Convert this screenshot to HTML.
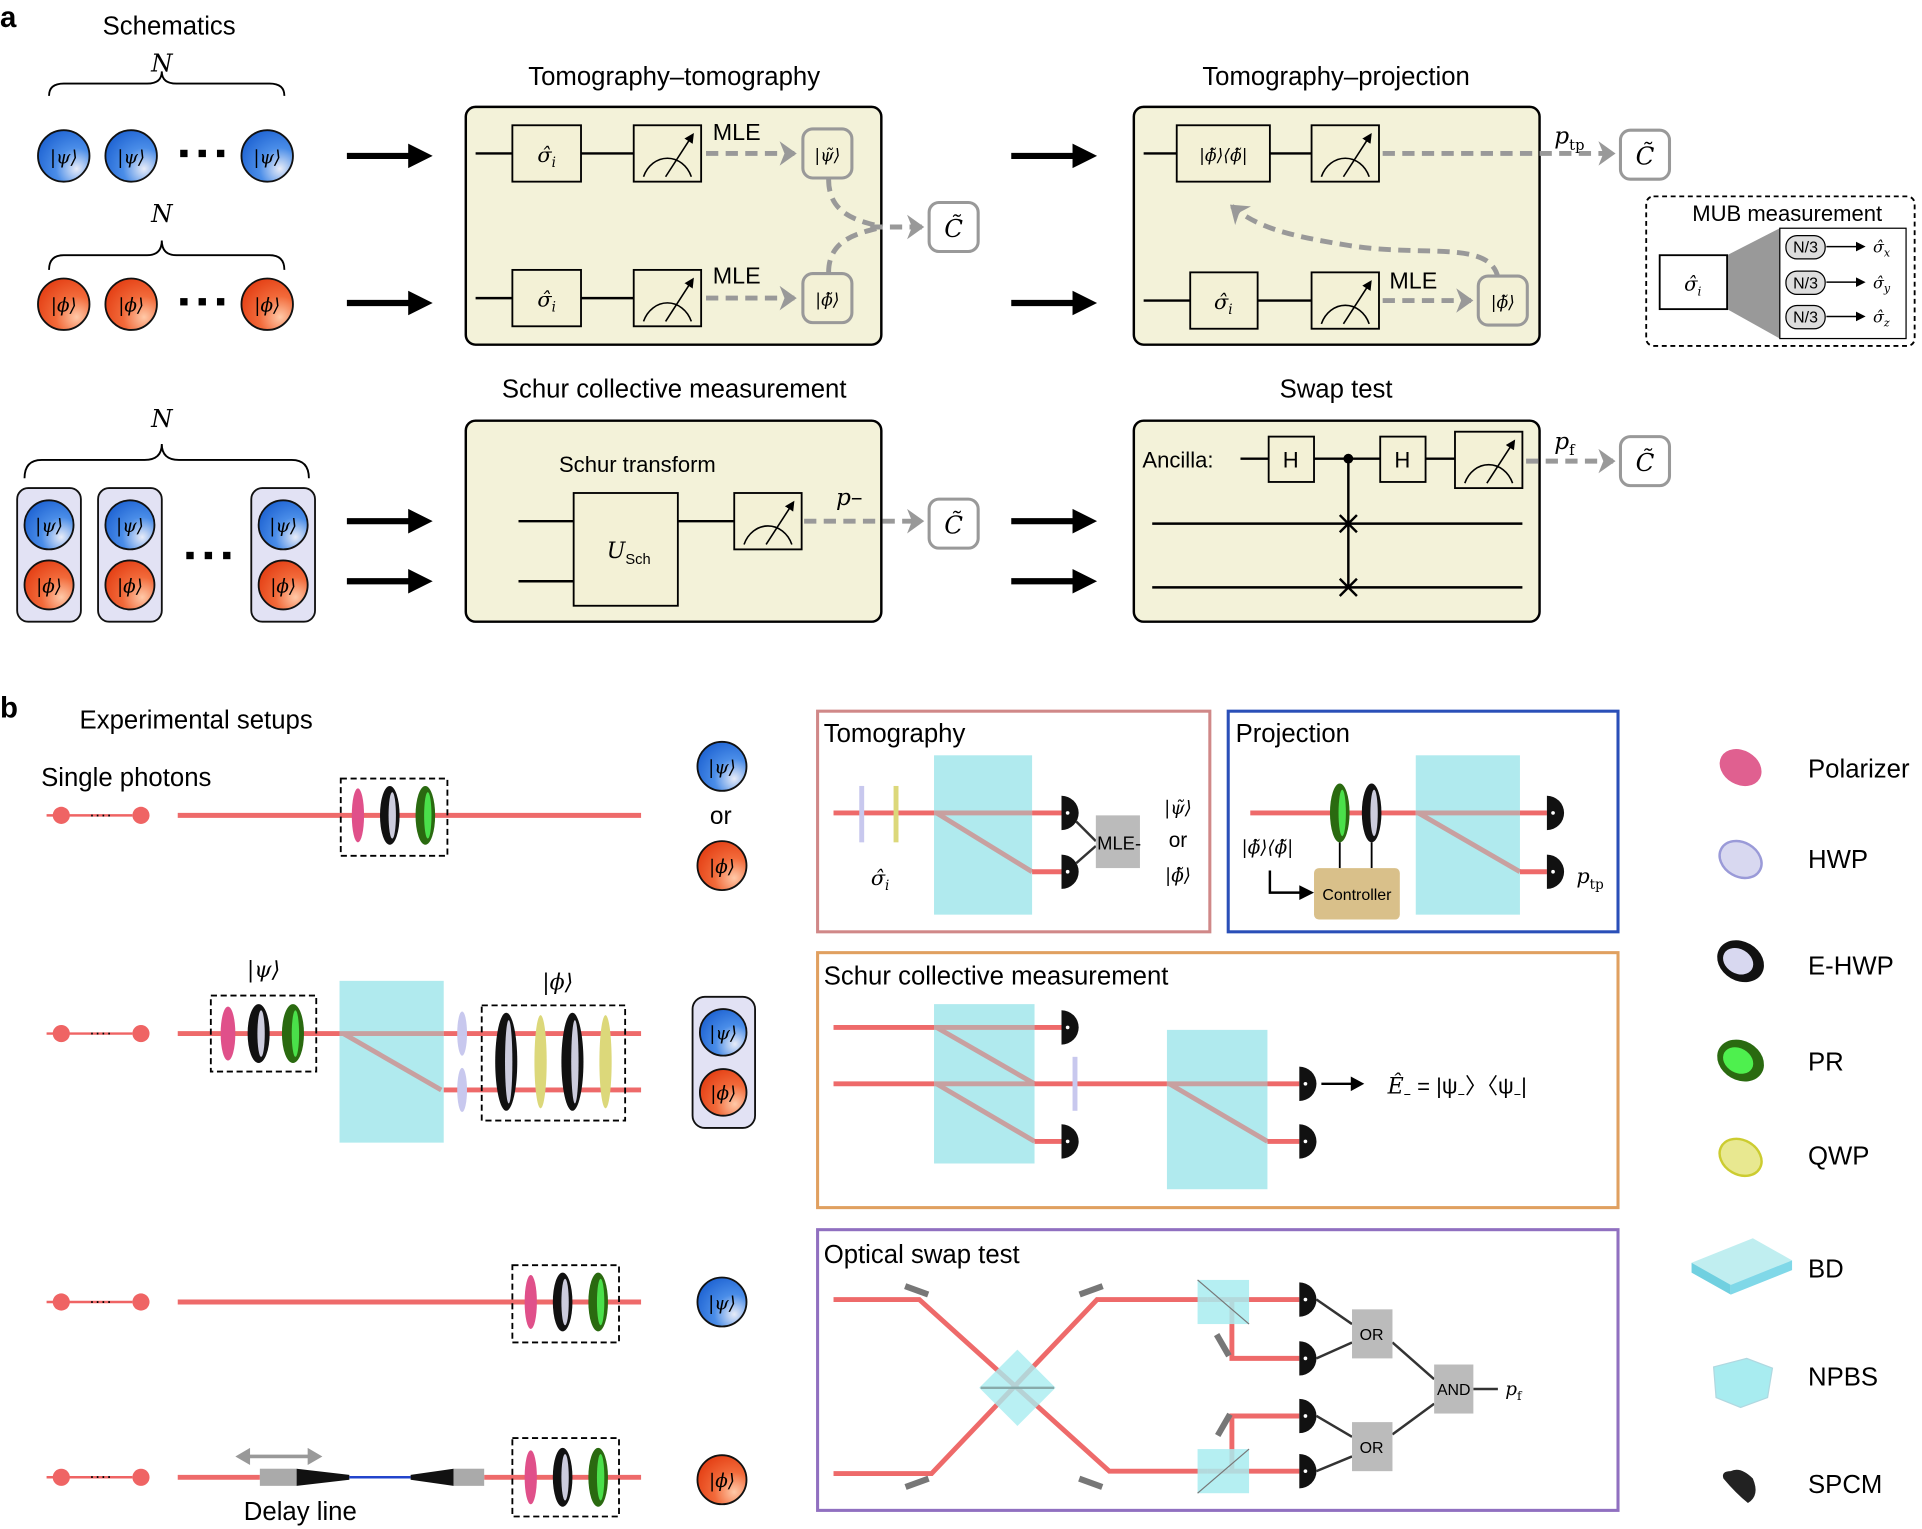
<!DOCTYPE html>
<html><head><meta charset="utf-8"><style>
html,body{margin:0;padding:0;background:#fff}
svg{display:block}
text{font-family:"Liberation Sans",sans-serif;fill:#000}
.m{font-family:"DejaVu Serif",serif;font-style:italic}
</style></head><body>
<svg width="1922" height="1529" viewBox="0 0 1568 1247" xmlns="http://www.w3.org/2000/svg">
<defs>
<radialGradient id="gb" cx="0.75" cy="0.75" r="0.9"><stop offset="0" stop-color="#e8ecf8"/><stop offset="0.45" stop-color="#4a8de8"/><stop offset="1" stop-color="#1a5fd0"/></radialGradient>
<radialGradient id="go" cx="0.75" cy="0.75" r="0.9"><stop offset="0" stop-color="#ffc9a8"/><stop offset="0.45" stop-color="#f26a3a"/><stop offset="1" stop-color="#e23a10"/></radialGradient>
<marker id="ah" markerWidth="8" markerHeight="8" refX="6" refY="4" orient="auto" markerUnits="userSpaceOnUse"><path d="M0,0 L8,4 L0,8 z" fill="#000"/></marker>
<marker id="ga" markerWidth="16" markerHeight="20" refX="12" refY="10" orient="auto" markerUnits="userSpaceOnUse"><path d="M0,0 L14,10 L0,20 L4,10 z" fill="#999"/></marker>
<g id="meter"><rect x="0" y="0" width="55" height="46" fill="#f3f1d6" stroke="#000" stroke-width="1.5"/><path d="M8,42 A21,24 0 0 1 47,42" fill="none" stroke="#000" stroke-width="1.3"/><line x1="26" y1="42" x2="48" y2="8" stroke="#000" stroke-width="1.3" marker-end="url(#ah)"/></g>
<g id="bigArrow"><line x1="0" y1="0" x2="52" y2="0" stroke="#000" stroke-width="5"/><path d="M50,-10 L70,0 L50,10 z" fill="#000"/></g>
<g id="det"><path d="M0,-14 A14,14 0 0 1 0,14 z" fill="#111"/><circle cx="5" cy="0" r="1.5" fill="#fff"/></g>
<g id="cbox"><rect x="0" y="0" width="40" height="40" rx="8" fill="#fff" stroke="#999" stroke-width="2.5"/><text x="20" y="28" text-anchor="middle" font-size="20" class="m">C̃</text></g>
<g id="src"><circle cx="50" cy="0" r="7" fill="#ef6464"/><circle cx="115" cy="0" r="7" fill="#ef6464"/><line x1="38" y1="0" x2="108" y2="0" stroke="#ef6464" stroke-width="2"/><text x="82" y="4" font-size="14" text-anchor="middle" fill="#000">····</text></g>
</defs>

<!-- ===== Panel a ===== -->
<text x="0" y="22" font-size="24" font-weight="bold">a</text>
<text x="138" y="28" font-size="21" text-anchor="middle">Schematics</text>
<text x="132" y="58" font-size="20" text-anchor="middle" class="m">N</text>
<path d="M40,78 Q40,68 52,68 L120,68 Q132,68 132,58 Q132,68 144,68 L220,68 Q232,68 232,78" fill="none" stroke="#000" stroke-width="1.5"/>
<g font-size="15" text-anchor="middle">
<circle cx="52" cy="127" r="21" fill="url(#gb)" stroke="#111" stroke-width="1.5"/><text x="52" y="133" class="m">|ψ⟩</text>
<circle cx="107" cy="127" r="21" fill="url(#gb)" stroke="#111" stroke-width="1.5"/><text x="107" y="133" class="m">|ψ⟩</text>
<circle cx="218" cy="127" r="21" fill="url(#gb)" stroke="#111" stroke-width="1.5"/><text x="218" y="133" class="m">|ψ⟩</text>
<circle cx="52" cy="248" r="21" fill="url(#go)" stroke="#111" stroke-width="1.5"/><text x="52" y="254" class="m">|ϕ⟩</text>
<circle cx="107" cy="248" r="21" fill="url(#go)" stroke="#111" stroke-width="1.5"/><text x="107" y="254" class="m">|ϕ⟩</text>
<circle cx="218" cy="248" r="21" fill="url(#go)" stroke="#111" stroke-width="1.5"/><text x="218" y="254" class="m">|ϕ⟩</text>
</g>
<g fill="#000"><rect x="147" y="122" width="6" height="6"/><rect x="162" y="122" width="6" height="6"/><rect x="177" y="122" width="6" height="6"/>
<rect x="147" y="243" width="6" height="6"/><rect x="162" y="243" width="6" height="6"/><rect x="177" y="243" width="6" height="6"/></g>
<text x="132" y="181" font-size="20" text-anchor="middle" class="m">N</text>
<path d="M40,220 Q40,208 52,208 L120,208 Q132,208 132,196 Q132,208 144,208 L220,208 Q232,208 232,220" fill="none" stroke="#000" stroke-width="1.5"/>
<use href="#bigArrow" x="283" y="127"/><use href="#bigArrow" x="283" y="247"/>

<!-- Tomo-tomo -->
<text x="550" y="69" font-size="21" text-anchor="middle">Tomography–tomography</text>
<rect x="380" y="87" width="339" height="194" rx="8" fill="#f3f2d9" stroke="#000" stroke-width="2"/>
<g stroke="#000" stroke-width="2"><line x1="388" y1="125" x2="418" y2="125"/><line x1="474" y1="125" x2="517" y2="125"/><line x1="388" y1="243" x2="418" y2="243"/><line x1="474" y1="243" x2="517" y2="243"/></g>
<rect x="418" y="102" width="56" height="46" fill="#f3f1d6" stroke="#000" stroke-width="1.5"/><text x="446" y="132" font-size="17" text-anchor="middle" class="m">σ̂<tspan font-size="11" dy="4">i</tspan></text>
<rect x="418" y="220" width="56" height="46" fill="#f3f1d6" stroke="#000" stroke-width="1.5"/><text x="446" y="250" font-size="17" text-anchor="middle" class="m">σ̂<tspan font-size="11" dy="4">i</tspan></text>
<use href="#meter" x="517" y="102"/><use href="#meter" x="517" y="220"/>
<text x="601" y="114" font-size="19" text-anchor="middle">MLE</text>
<text x="601" y="231" font-size="19" text-anchor="middle">MLE</text>
<g stroke="#999" stroke-width="4" stroke-dasharray="10,6" fill="none">
<line x1="576" y1="125" x2="648" y2="125" marker-end="url(#ga)"/>
<line x1="576" y1="243" x2="648" y2="243" marker-end="url(#ga)"/>
<path d="M676,146 C676,175 700,180 720,185"/><path d="M676,222 C676,195 700,190 720,185"/>
<line x1="710" y1="185" x2="752" y2="185" marker-end="url(#ga)"/>
</g>
<rect x="655" y="105" width="40" height="40" rx="8" fill="#f3f1d6" stroke="#999" stroke-width="2.5"/><text x="675" y="131" font-size="14" text-anchor="middle" class="m">|ψ̃⟩</text>
<rect x="655" y="223" width="40" height="40" rx="8" fill="#f3f1d6" stroke="#999" stroke-width="2.5"/><text x="675" y="249" font-size="14" text-anchor="middle" class="m">|ϕ̃⟩</text>
<use href="#cbox" x="758" y="165"/>
<use href="#bigArrow" x="825" y="127"/><use href="#bigArrow" x="825" y="247"/>

<!-- Tomo-proj -->
<text x="1090" y="69" font-size="21" text-anchor="middle">Tomography–projection</text>
<rect x="925" y="87" width="331" height="194" rx="8" fill="#f3f2d9" stroke="#000" stroke-width="2"/>
<g stroke="#000" stroke-width="2"><line x1="933" y1="125" x2="960" y2="125"/><line x1="1036" y1="125" x2="1070" y2="125"/><line x1="933" y1="245" x2="971" y2="245"/><line x1="1026" y1="245" x2="1070" y2="245"/></g>
<rect x="960" y="102" width="76" height="46" fill="#f3f1d6" stroke="#000" stroke-width="1.5"/><text x="998" y="131" font-size="14" text-anchor="middle" class="m">|ϕ̃⟩⟨ϕ̃|</text>
<rect x="971" y="222" width="55" height="46" fill="#f3f1d6" stroke="#000" stroke-width="1.5"/><text x="998" y="252" font-size="17" text-anchor="middle" class="m">σ̂<tspan font-size="11" dy="4">i</tspan></text>
<use href="#meter" x="1070" y="102"/><use href="#meter" x="1070" y="222"/>
<text x="1153" y="235" font-size="19" text-anchor="middle">MLE</text>
<g stroke="#999" stroke-width="4" stroke-dasharray="10,6" fill="none">
<line x1="1128" y1="125" x2="1316" y2="125" marker-end="url(#ga)"/>
<line x1="1128" y1="245" x2="1200" y2="245" marker-end="url(#ga)"/>
<path d="M1222,226 C1215,195 1160,210 1100,200 C1050,192 1025,185 1005,168" marker-end="url(#ga)"/>
</g>
<rect x="1206" y="225" width="40" height="40" rx="8" fill="#f3f1d6" stroke="#999" stroke-width="2.5"/><text x="1226" y="251" font-size="14" text-anchor="middle" class="m">|ϕ̃⟩</text>
<text x="1268" y="117" font-size="19" class="m">p<tspan font-size="12" dy="5" font-style="normal">tp</tspan></text>
<use href="#cbox" x="1322" y="106"/>

<!-- MUB -->
<rect x="1343" y="160" width="219" height="122" rx="6" fill="#fff" stroke="#000" stroke-width="1.5" stroke-dasharray="4,3"/>
<text x="1458" y="180" font-size="18" text-anchor="middle">MUB measurement</text>
<path d="M1409,208 L1452,186 L1452,276 L1409,252 z" fill="#999"/>
<rect x="1354" y="208" width="55" height="44" fill="#fff" stroke="#000" stroke-width="1.5"/><text x="1381" y="237" font-size="16" text-anchor="middle" class="m">σ̂<tspan font-size="10" dy="4">i</tspan></text>
<rect x="1452" y="186" width="103" height="90" fill="#fff" stroke="#000" stroke-width="1"/>
<g font-size="13" text-anchor="middle">
<rect x="1457" y="192" width="32" height="19" rx="9" fill="#ddd" stroke="#000"/><text x="1473" y="206">N/3</text>
<rect x="1457" y="221" width="32" height="19" rx="9" fill="#ddd" stroke="#000"/><text x="1473" y="235">N/3</text>
<rect x="1457" y="249" width="32" height="19" rx="9" fill="#ddd" stroke="#000"/><text x="1473" y="263">N/3</text>
</g>
<g stroke="#000" stroke-width="1.2"><line x1="1490" y1="201" x2="1520" y2="201" marker-end="url(#ah)"/><line x1="1490" y1="230" x2="1520" y2="230" marker-end="url(#ah)"/><line x1="1490" y1="258" x2="1520" y2="258" marker-end="url(#ah)"/></g>
<g font-size="13"><text x="1528" y="206" class="m">σ̂<tspan font-size="9" dy="3">x</tspan></text><text x="1528" y="235" class="m">σ̂<tspan font-size="9" dy="3">y</tspan></text><text x="1528" y="263" class="m">σ̂<tspan font-size="9" dy="3">z</tspan></text></g>

<!-- Row 3 left -->
<text x="132" y="348" font-size="20" text-anchor="middle" class="m">N</text>
<path d="M20,390 Q20,375 34,375 L118,375 Q132,375 132,362 Q132,375 146,375 L238,375 Q252,375 252,390" fill="none" stroke="#000" stroke-width="1.5"/>
<g font-size="15" text-anchor="middle">
<rect x="14" y="398" width="52" height="109" rx="9" fill="#e2e2f4" stroke="#111" stroke-width="1.5"/>
<rect x="80" y="398" width="52" height="109" rx="9" fill="#e2e2f4" stroke="#111" stroke-width="1.5"/>
<rect x="205" y="398" width="52" height="109" rx="9" fill="#e2e2f4" stroke="#111" stroke-width="1.5"/>
<circle cx="40" cy="428" r="20" fill="url(#gb)" stroke="#111" stroke-width="1.5"/><text x="40" y="434" class="m">|ψ⟩</text>
<circle cx="106" cy="428" r="20" fill="url(#gb)" stroke="#111" stroke-width="1.5"/><text x="106" y="434" class="m">|ψ⟩</text>
<circle cx="231" cy="428" r="20" fill="url(#gb)" stroke="#111" stroke-width="1.5"/><text x="231" y="434" class="m">|ψ⟩</text>
<circle cx="40" cy="477" r="20" fill="url(#go)" stroke="#111" stroke-width="1.5"/><text x="40" y="483" class="m">|ϕ⟩</text>
<circle cx="106" cy="477" r="20" fill="url(#go)" stroke="#111" stroke-width="1.5"/><text x="106" y="483" class="m">|ϕ⟩</text>
<circle cx="231" cy="477" r="20" fill="url(#go)" stroke="#111" stroke-width="1.5"/><text x="231" y="483" class="m">|ϕ⟩</text>
</g>
<g fill="#000"><rect x="152" y="450" width="6" height="6"/><rect x="167" y="450" width="6" height="6"/><rect x="182" y="450" width="6" height="6"/></g>
<use href="#bigArrow" x="283" y="425"/><use href="#bigArrow" x="283" y="474"/>

<!-- Schur box -->
<text x="550" y="324" font-size="21" text-anchor="middle">Schur collective measurement</text>
<rect x="380" y="343" width="339" height="164" rx="8" fill="#f3f2d9" stroke="#000" stroke-width="2"/>
<text x="520" y="385" font-size="18" text-anchor="middle">Schur transform</text>
<g stroke="#000" stroke-width="2"><line x1="423" y1="425" x2="468" y2="425"/><line x1="423" y1="474" x2="468" y2="474"/><line x1="553" y1="425" x2="599" y2="425"/></g>
<rect x="468" y="402" width="85" height="92" fill="#f3f1d6" stroke="#000" stroke-width="1.5"/>
<text x="495" y="455" font-size="18" class="m">U<tspan font-size="12" dy="5" font-style="normal" font-family="Liberation Sans">Sch</tspan></text>
<use href="#meter" x="599" y="402"/>
<text x="682" y="412" font-size="19" class="m">p<tspan font-style="normal">–</tspan></text>
<line x1="656" y1="425" x2="752" y2="425" stroke="#999" stroke-width="4" stroke-dasharray="10,6" marker-end="url(#ga)"/>
<use href="#cbox" x="758" y="407"/>
<use href="#bigArrow" x="825" y="425"/><use href="#bigArrow" x="825" y="474"/>

<!-- Swap test -->
<text x="1090" y="324" font-size="21" text-anchor="middle">Swap test</text>
<rect x="925" y="343" width="331" height="164" rx="8" fill="#f3f2d9" stroke="#000" stroke-width="2"/>
<text x="932" y="381" font-size="18">Ancilla:</text>
<g stroke="#000" stroke-width="2"><line x1="1012" y1="374" x2="1187" y2="374"/><line x1="940" y1="427" x2="1242" y2="427"/><line x1="940" y1="479" x2="1242" y2="479"/><line x1="1100" y1="374" x2="1100" y2="479"/>
<path d="M1093,420 L1107,434 M1107,420 L1093,434 M1093,472 L1107,486 M1107,472 L1093,486"/></g>
<circle cx="1100" cy="374" r="4" fill="#000"/>
<rect x="1035" y="356" width="37" height="37" fill="#f3f1d6" stroke="#000" stroke-width="1.5"/><text x="1053" y="381" font-size="18" text-anchor="middle">H</text>
<rect x="1126" y="356" width="37" height="37" fill="#f3f1d6" stroke="#000" stroke-width="1.5"/><text x="1144" y="381" font-size="18" text-anchor="middle">H</text>
<use href="#meter" x="1187" y="352"/>
<text x="1268" y="366" font-size="19" class="m">p<tspan font-size="12" dy="5" font-style="normal">f</tspan></text>
<line x1="1245" y1="376" x2="1316" y2="376" stroke="#999" stroke-width="4" stroke-dasharray="10,6" marker-end="url(#ga)"/>
<use href="#cbox" x="1322" y="356"/>

<!-- ===== Panel b ===== -->
<text x="0" y="585" font-size="24" font-weight="bold">b</text>
<text x="160" y="594" font-size="21" text-anchor="middle">Experimental setups</text>
<text x="103" y="641" font-size="21" text-anchor="middle">Single photons</text>

<!-- row1 -->
<use href="#src" y="665"/>
<line x1="145" y1="665" x2="523" y2="665" stroke="#ee6a6a" stroke-width="4"/>
<rect x="278" y="635" width="87" height="63" fill="none" stroke="#000" stroke-width="1.5" stroke-dasharray="5,3"/>
<ellipse cx="292" cy="665" rx="5" ry="22" fill="#e0508a"/><ellipse cx="318" cy="665" rx="8" ry="24" fill="#111"/><ellipse cx="320" cy="665" rx="3" ry="19" fill="#ccd"/><ellipse cx="347" cy="665" rx="8" ry="24" fill="#2a6a10"/><ellipse cx="349" cy="665" rx="3" ry="19" fill="#4ae04a"/>
<g font-size="15" text-anchor="middle">
<circle cx="589" cy="625" r="20" fill="url(#gb)" stroke="#111" stroke-width="1.5"/><text x="589" y="631" class="m">|ψ⟩</text>
<text x="588" y="672" font-size="20">or</text>
<circle cx="589" cy="706" r="20" fill="url(#go)" stroke="#111" stroke-width="1.5"/><text x="589" y="712" class="m">|ϕ⟩</text>
</g>
<!-- row2 -->
<use href="#src" y="843"/>
<rect x="277" y="800" width="85" height="132" fill="#b0eaee"/>
<g stroke-width="4"><line x1="145" y1="843" x2="277" y2="843" stroke="#ee6a6a"/><line x1="277" y1="843" x2="362" y2="843" stroke="#c8a0a0"/><line x1="280" y1="843" x2="360" y2="889" stroke="#c8a0a0"/><line x1="362" y1="843" x2="523" y2="843" stroke="#ee6a6a"/><line x1="362" y1="889" x2="523" y2="889" stroke="#ee6a6a"/></g>
<rect x="172" y="812" width="86" height="62" fill="none" stroke="#000" stroke-width="1.5" stroke-dasharray="5,3"/>
<ellipse cx="186" cy="843" rx="6" ry="22" fill="#e0508a"/><ellipse cx="211" cy="843" rx="9" ry="24" fill="#111"/><ellipse cx="213" cy="843" rx="3" ry="19" fill="#ccd"/><ellipse cx="239" cy="843" rx="9" ry="24" fill="#2a6a10"/><ellipse cx="241" cy="843" rx="3" ry="19" fill="#4ae04a"/>
<text x="215" y="797" font-size="18" text-anchor="middle" class="m">|ψ⟩</text>
<ellipse cx="377" cy="843" rx="4" ry="18" fill="#c8c8ee"/><ellipse cx="377" cy="889" rx="4" ry="18" fill="#c8c8ee"/>
<rect x="393" y="820" width="117" height="94" fill="none" stroke="#000" stroke-width="1.5" stroke-dasharray="5,3"/>
<ellipse cx="413" cy="866" rx="9" ry="40" fill="#111"/><ellipse cx="415" cy="866" rx="3" ry="34" fill="#ccd"/>
<ellipse cx="441" cy="866" rx="5" ry="38" fill="#dcd87a"/>
<ellipse cx="467" cy="866" rx="9" ry="40" fill="#111"/><ellipse cx="469" cy="866" rx="3" ry="34" fill="#ccd"/>
<ellipse cx="494" cy="866" rx="5" ry="38" fill="#dcd87a"/>
<text x="455" y="807" font-size="18" text-anchor="middle" class="m">|ϕ⟩</text>
<rect x="565" y="813" width="51" height="107" rx="10" fill="#e2e2f4" stroke="#111" stroke-width="1.5"/>
<g font-size="15" text-anchor="middle"><circle cx="590" cy="842" r="19" fill="url(#gb)" stroke="#111" stroke-width="1.5"/><text x="590" y="848" class="m">|ψ⟩</text>
<circle cx="590" cy="891" r="19" fill="url(#go)" stroke="#111" stroke-width="1.5"/><text x="590" y="897" class="m">|ϕ⟩</text></g>
<!-- row3 -->
<use href="#src" y="1062"/>
<line x1="145" y1="1062" x2="523" y2="1062" stroke="#ee6a6a" stroke-width="4"/>
<rect x="418" y="1032" width="87" height="63" fill="none" stroke="#000" stroke-width="1.5" stroke-dasharray="5,3"/>
<ellipse cx="433" cy="1062" rx="5" ry="22" fill="#e0508a"/><ellipse cx="459" cy="1062" rx="8" ry="24" fill="#111"/><ellipse cx="461" cy="1062" rx="3" ry="19" fill="#ccd"/><ellipse cx="488" cy="1062" rx="8" ry="24" fill="#2a6a10"/><ellipse cx="490" cy="1062" rx="3" ry="19" fill="#4ae04a"/>
<circle cx="589" cy="1062" r="20" fill="url(#gb)" stroke="#111" stroke-width="1.5"/><text x="589" y="1068" font-size="15" text-anchor="middle" class="m">|ψ⟩</text>
<!-- row4 -->
<use href="#src" y="1205"/>
<line x1="145" y1="1205" x2="212" y2="1205" stroke="#ee6a6a" stroke-width="4"/>
<line x1="395" y1="1205" x2="523" y2="1205" stroke="#ee6a6a" stroke-width="4"/>
<rect x="212" y="1198" width="30" height="14" fill="#aaa"/><path d="M242,1198 L285,1203 L285,1207 L242,1212 z" fill="#111"/>
<line x1="285" y1="1205" x2="335" y2="1205" stroke="#2244cc" stroke-width="2"/>
<path d="M335,1203 L370,1198 L370,1212 L335,1207 z" fill="#111"/><rect x="370" y="1198" width="25" height="14" fill="#aaa"/>
<line x1="200" y1="1188" x2="255" y2="1188" stroke="#999" stroke-width="3"/><path d="M192,1188 L204,1181 L204,1195 z M263,1188 L251,1181 L251,1195 z" fill="#999"/>
<text x="245" y="1240" font-size="21" text-anchor="middle">Delay line</text>
<rect x="418" y="1173" width="87" height="64" fill="none" stroke="#000" stroke-width="1.5" stroke-dasharray="5,3"/>
<ellipse cx="433" cy="1205" rx="5" ry="22" fill="#e0508a"/><ellipse cx="459" cy="1205" rx="8" ry="24" fill="#111"/><ellipse cx="461" cy="1205" rx="3" ry="19" fill="#ccd"/><ellipse cx="488" cy="1205" rx="8" ry="24" fill="#2a6a10"/><ellipse cx="490" cy="1205" rx="3" ry="19" fill="#4ae04a"/>
<circle cx="589" cy="1207" r="20" fill="url(#go)" stroke="#111" stroke-width="1.5"/><text x="589" y="1213" font-size="15" text-anchor="middle" class="m">|ϕ⟩</text>

<!-- Tomography box -->
<rect x="667" y="580" width="320" height="180" fill="#fff" stroke="#d08888" stroke-width="2.5"/>
<text x="672" y="605" font-size="21">Tomography</text>
<rect x="762" y="616" width="80" height="130" fill="#b0eaee"/>
<g stroke-width="4"><line x1="680" y1="663" x2="762" y2="663" stroke="#ee6a6a"/><line x1="762" y1="663" x2="842" y2="663" stroke="#c8a0a0"/><line x1="764" y1="663" x2="842" y2="711" stroke="#c8a0a0"/><line x1="842" y1="663" x2="866" y2="663" stroke="#ee6a6a"/><line x1="842" y1="711" x2="866" y2="711" stroke="#ee6a6a"/></g>
<rect x="701" y="641" width="4" height="46" fill="#c8c8ee"/><rect x="729" y="641" width="4" height="46" fill="#dcd87a"/>
<text x="718" y="722" font-size="17" text-anchor="middle" class="m">σ̂<tspan font-size="11" dy="4">i</tspan></text>
<use href="#det" x="866" y="663"/><use href="#det" x="866" y="711"/>
<g stroke="#333" stroke-width="2"><line x1="878" y1="670" x2="894" y2="686"/><line x1="878" y1="704" x2="894" y2="690"/></g>
<rect x="894" y="665" width="36" height="43" fill="#bbb"/><text x="913" y="693" font-size="15" text-anchor="middle">MLE-</text>
<g font-size="15" text-anchor="middle"><text x="961" y="664" class="m">|ψ̃⟩</text><text x="961" y="691" font-size="17">or</text><text x="961" y="719" class="m">|ϕ̃⟩</text></g>

<!-- Projection -->
<rect x="1002" y="580" width="318" height="180" fill="#fff" stroke="#2a4fb8" stroke-width="2.5"/>
<text x="1008" y="605" font-size="21">Projection</text>
<rect x="1155" y="616" width="85" height="130" fill="#b0eaee"/>
<g stroke-width="4"><line x1="1020" y1="663" x2="1155" y2="663" stroke="#ee6a6a"/><line x1="1155" y1="663" x2="1240" y2="663" stroke="#c8a0a0"/><line x1="1157" y1="663" x2="1240" y2="711" stroke="#c8a0a0"/><line x1="1240" y1="663" x2="1262" y2="663" stroke="#ee6a6a"/><line x1="1240" y1="711" x2="1262" y2="711" stroke="#ee6a6a"/></g>
<ellipse cx="1093" cy="663" rx="8" ry="24" fill="#2a6a10"/><ellipse cx="1095" cy="663" rx="3" ry="19" fill="#4ae04a"/>
<ellipse cx="1119" cy="663" rx="8" ry="24" fill="#111"/><ellipse cx="1121" cy="663" rx="3" ry="19" fill="#ccd"/>
<g stroke="#000" stroke-width="1.5"><line x1="1093" y1="687" x2="1093" y2="708"/><line x1="1119" y1="687" x2="1119" y2="708"/></g>
<rect x="1072" y="708" width="70" height="42" rx="4" fill="#d9c08a"/><text x="1107" y="734" font-size="13" text-anchor="middle">Controller</text>
<text x="1034" y="696" font-size="15" text-anchor="middle" class="m">|ϕ̃⟩⟨ϕ̃|</text>
<path d="M1036,710 L1036,728 L1062,728" fill="none" stroke="#000" stroke-width="2"/><path d="M1060,722 L1072,728 L1060,734 z" fill="#000"/>
<use href="#det" x="1262" y="663"/><use href="#det" x="1262" y="711"/>
<text x="1286" y="720" font-size="17" class="m">p<tspan font-size="11" dy="5" font-style="normal">tp</tspan></text>

<!-- Schur collective -->
<rect x="667" y="777" width="653" height="208" fill="#fff" stroke="#e0a060" stroke-width="2.5"/>
<text x="672" y="803" font-size="21">Schur collective measurement</text>
<rect x="762" y="819" width="82" height="130" fill="#b0eaee"/>
<rect x="952" y="840" width="82" height="130" fill="#b0eaee"/>
<g stroke-width="4">
<line x1="680" y1="838" x2="762" y2="838" stroke="#ee6a6a"/><line x1="680" y1="884" x2="762" y2="884" stroke="#ee6a6a"/>
<line x1="762" y1="838" x2="844" y2="838" stroke="#c8a0a0"/><line x1="764" y1="838" x2="844" y2="884" stroke="#c8a0a0"/>
<line x1="762" y1="884" x2="844" y2="884" stroke="#c8a0a0"/><line x1="764" y1="884" x2="844" y2="931" stroke="#c8a0a0"/>
<line x1="844" y1="838" x2="866" y2="838" stroke="#ee6a6a"/><line x1="844" y1="931" x2="866" y2="931" stroke="#ee6a6a"/>
<line x1="844" y1="884" x2="952" y2="884" stroke="#ee6a6a"/>
<line x1="952" y1="884" x2="1034" y2="884" stroke="#c8a0a0"/><line x1="954" y1="884" x2="1034" y2="931" stroke="#c8a0a0"/>
<line x1="1034" y1="884" x2="1060" y2="884" stroke="#ee6a6a"/><line x1="1034" y1="931" x2="1060" y2="931" stroke="#ee6a6a"/>
</g>
<rect x="875" y="862" width="4" height="44" fill="#c8c8ee"/>
<use href="#det" x="866" y="838"/><use href="#det" x="866" y="931"/><use href="#det" x="1060" y="884"/><use href="#det" x="1060" y="931"/>
<line x1="1078" y1="884" x2="1104" y2="884" stroke="#000" stroke-width="2"/><path d="M1102,878 L1113,884 L1102,890 z" fill="#000"/>
<text x="1132" y="892" font-size="18" class="m">Ê<tspan font-size="12" dy="4">–</tspan><tspan dy="-4" font-style="normal" font-family="Liberation Sans"> = |ψ</tspan><tspan font-size="12" dy="4" font-style="normal">–</tspan><tspan dy="-4" font-style="normal" font-family="Liberation Sans">〉〈ψ</tspan><tspan font-size="12" dy="4" font-style="normal">–</tspan><tspan dy="-4" font-style="normal" font-family="Liberation Sans">|</tspan></text>

<!-- Optical swap test -->
<rect x="667" y="1003" width="653" height="229" fill="#fff" stroke="#9070c0" stroke-width="2.5"/>
<text x="672" y="1030" font-size="21">Optical swap test</text>
<g stroke="#ee6a6a" stroke-width="4" fill="none">
<path d="M680,1060 L750,1060 L905,1200 L985,1200"/>
<path d="M680,1202 L760,1202 L895,1060 L985,1060"/>
<path d="M985,1060 L1060,1060 M1005,1060 L1005,1108 L1060,1108"/>
<path d="M985,1200 L1060,1200 M1005,1200 L1005,1155 L1060,1155"/>
</g>
<rect x="808" y="1110" width="44" height="44" fill="#a8ecf0" opacity="0.8" transform="rotate(45 830 1132)"/>
<line x1="800" y1="1132" x2="860" y2="1132" stroke="#88aaaa" stroke-width="2"/>
<rect x="977" y="1044" width="42" height="36" fill="#a8ecf0" opacity="0.85"/><line x1="977" y1="1044" x2="1019" y2="1080" stroke="#777"/>
<rect x="977" y="1182" width="42" height="36" fill="#a8ecf0" opacity="0.85"/><line x1="977" y1="1218" x2="1019" y2="1182" stroke="#777"/>
<g fill="#777"><rect x="738" y="1050" width="20" height="5" transform="rotate(20 748 1052)"/><rect x="738" y="1207" width="20" height="5" transform="rotate(-20 748 1209)"/>
<rect x="880" y="1050" width="20" height="5" transform="rotate(-20 890 1052)"/><rect x="880" y="1207" width="20" height="5" transform="rotate(20 890 1209)"/>
<rect x="988" y="1095" width="20" height="5" transform="rotate(60 998 1097)"/><rect x="988" y="1160" width="20" height="5" transform="rotate(-60 998 1162)"/></g>
<use href="#det" x="1060" y="1060"/><use href="#det" x="1060" y="1108"/><use href="#det" x="1060" y="1155"/><use href="#det" x="1060" y="1200"/>
<g stroke="#333" stroke-width="2"><line x1="1074" y1="1060" x2="1103" y2="1080"/><line x1="1074" y1="1108" x2="1103" y2="1095"/><line x1="1074" y1="1155" x2="1103" y2="1172"/><line x1="1074" y1="1200" x2="1103" y2="1188"/>
<line x1="1136" y1="1095" x2="1170" y2="1125"/><line x1="1136" y1="1170" x2="1170" y2="1145"/><line x1="1202" y1="1133" x2="1222" y2="1133"/></g>
<rect x="1103" y="1068" width="33" height="40" fill="#bbb"/><text x="1119" y="1093" font-size="13" text-anchor="middle">OR</text>
<rect x="1103" y="1160" width="33" height="40" fill="#bbb"/><text x="1119" y="1185" font-size="13" text-anchor="middle">OR</text>
<rect x="1170" y="1113" width="32" height="40" fill="#bbb"/><text x="1186" y="1138" font-size="13" text-anchor="middle">AND</text>
<text x="1228" y="1138" font-size="15" class="m">p<tspan font-size="10" dy="4" font-style="normal">f</tspan></text>

<!-- Legend -->
<g font-size="21">
<ellipse cx="1420" cy="626" rx="18" ry="14" fill="#e06090" transform="rotate(30 1420 626)"/><text x="1475" y="634">Polarizer</text>
<ellipse cx="1420" cy="701" rx="18" ry="14" fill="#d8d8f0" stroke="#9a9ad8" stroke-width="2" transform="rotate(30 1420 701)"/><text x="1475" y="708">HWP</text>
<ellipse cx="1420" cy="784" rx="20" ry="16" fill="#111" transform="rotate(30 1420 784)"/><ellipse cx="1418" cy="784" rx="13" ry="10" fill="#d8d8f0" transform="rotate(30 1418 784)"/><text x="1475" y="795">E-HWP</text>
<ellipse cx="1420" cy="865" rx="20" ry="16" fill="#2a6a10" transform="rotate(30 1420 865)"/><ellipse cx="1418" cy="865" rx="13" ry="10" fill="#4ef04e" transform="rotate(30 1418 865)"/><text x="1475" y="873">PR</text>
<ellipse cx="1420" cy="944" rx="18" ry="14" fill="#e8e890" stroke="#cccc30" stroke-width="2" transform="rotate(30 1420 944)"/><text x="1475" y="950">QWP</text>
<path d="M1380,1030 L1430,1010 L1462,1028 L1412,1048 z" fill="#c0eef0"/><path d="M1380,1030 L1412,1048 L1412,1056 L1380,1038 z" fill="#70d0e0"/><path d="M1412,1048 L1462,1028 L1462,1036 L1412,1056 z" fill="#80d8e8"/><text x="1475" y="1042">BD</text>
<path d="M1398,1115 L1425,1108 L1446,1116 L1442,1140 L1420,1148 L1400,1140 z" fill="#a8ecf0" stroke="#b0d8e0"/><text x="1475" y="1130">NPBS</text>
<path d="M1412,1200 Q1420,1196 1430,1206 Q1436,1220 1426,1226 Q1416,1218 1406,1206 Q1404,1200 1412,1200 z" fill="#222"/><text x="1475" y="1218">SPCM</text>
</g>
</svg>
</body></html>
